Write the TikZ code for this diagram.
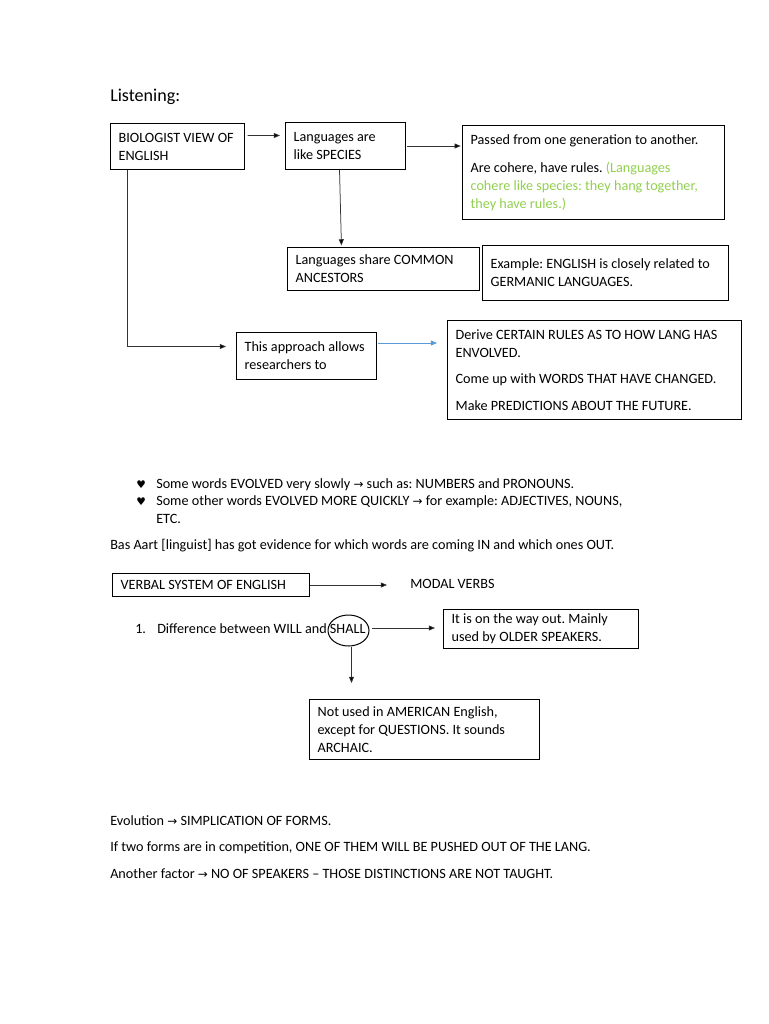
\documentclass[tikz,border=0pt]{standalone}
\usepackage{fontspec}
\setmainfont{Carlito}
\newfontfamily\symfont{DejaVu Sans}
\usetikzlibrary{arrows.meta,shapes.geometric,calc}
\definecolor{notegreen}{HTML}{92D050}
\definecolor{linkblue}{HTML}{5B9BD5}
\newcommand{\toarrow}{{\symfont\fontsize{9.5}{10}\selectfont →}}
\newcommand{\heartmark}{{\symfont\fontsize{8.5}{10}\selectfont ♥}}
\frenchspacing
\begin{document}
\begin{tikzpicture}[x=0.8pt,y=-0.8pt,
  every node/.style={font=\fontsize{11.35}{14.4}\selectfont},
  txt/.style={anchor=base west,inner sep=0pt},
  box/.style={draw,line width=0.8pt,anchor=north west,align=left,inner xsep=6.5pt,inner ysep=2pt,
    execute at begin node={\spaceskip=0pt\xspaceskip=0pt}},
  arr/.style={draw=black!80,line width=0.6pt,-{Triangle[length=5pt,width=4pt,fill=black]}}]
\fill[white] (0,0) rectangle (768,1024);
\useasboundingbox (0,0) rectangle (768,1024);
\node[txt,font=\fontsize{14.45}{17}\selectfont] (title) at (110,102) {Listening:};
\node[box,text width=94.2pt,minimum height=36.8pt] (bio) at (110,123) {BIOLOGIST VIEW OF\\ENGLISH};
\node[box,text width=83pt,minimum height=37.6pt] (species) at (285,122) {Languages are\\like SPECIES};
\node[box,text width=196.6pt,minimum height=75.2pt] (passed) at (462,125) {Passed from one generation to another.\\[8pt]Are cohere, have rules. \color{notegreen}(Languages\\cohere like species: they hang together,\\they have rules.)};
\node[box,text width=140.6pt,minimum height=34.4pt] (common) at (287,247) {Languages share COMMON\\ANCESTORS};
\node[box,text width=183.8pt,minimum height=44pt] (example) at (482,245) {Example: ENGLISH is closely related to\\GERMANIC LANGUAGES.};
\node[box,text width=99pt,minimum height=37.6pt] (approach) at (236,332) {This approach allows\\researchers to};
\node[box,text width=222.2pt,minimum height=79.2pt] (rules) at (447,320) {Derive CERTAIN RULES AS TO HOW LANG HAS\\ENVOLVED.\\[7pt]Come up with WORDS THAT HAVE CHANGED.\\[7pt]Make PREDICTIONS ABOUT THE FUTURE.};
\draw[arr,shorten <=2pt,shorten >=4pt] ($(bio.east)+(0,-11)$) -- ($(species.west)+(0,-10.5)$);
\draw[arr,shorten <=1pt,shorten >=1pt] (species.east) -- (species.east -| passed.west);
\draw[arr,shorten >=2pt] ($(species.south)+(-6,0)$) -- ($(species.south)+(-4,78)$);
\draw[arr,shorten >=8pt] ($(bio.south west)+(17,0)$) |- ($(approach.west)+(0,-9.5)$);
\draw[arr,draw=linkblue,-{Triangle[length=5pt,width=4pt,fill=linkblue]},shorten <=1pt,shorten >=8pt] ($(approach.east)+(0,-13)$) -- ($(approach.east -| rules.west)+(0,-13)$);
\node[txt] (hearta) at (136,488) {\heartmark};
\node[txt] (slow) at (156,488) {Some words EVOLVED very slowly \toarrow{} such as: NUMBERS and PRONOUNS.};
\node[txt] (heartb) at (136,505.5) {\heartmark};
\node[txt] (quick) at (156,505.5) {Some other words EVOLVED MORE QUICKLY \toarrow{} for example: ADJECTIVES, NOUNS,};
\node[txt] (etc) at (156,523) {ETC.};
\node[txt] (basaart) at (110,549.5) {Bas Aart [linguist] has got evidence for which words are coming IN and which ones OUT.};
\node[box,text width=144.6pt,minimum height=18.4pt] (verbal) at (112,573) {VERBAL SYSTEM OF ENGLISH};
\node[txt] (modal) at (410,588.5) {MODAL VERBS};
\draw[arr,shorten >=18.4pt] (verbal.east) -- (verbal.east -| modal.west);
\node[txt] (num) at (135,633) {1.};
\node[txt] (diff) at (157,633) {Difference between WILL and SHALL};
\node[draw,ellipse,line width=0.8pt,minimum width=32.8pt,minimum height=24.8pt,inner sep=0pt] (shall) at (348.5,630.5) {};
\node[box,text width=143pt,minimum height=31.2pt] (wayout) at (443,609) {It is on the way out. Mainly\\used by OLDER SPEAKERS.};
\node[box,text width=171pt,minimum height=48pt] (archaic) at (309,699) {Not used in AMERICAN English,\\except for QUESTIONS. It sounds\\ARCHAIC.};
\draw[arr,shorten <=2pt,shorten >=6.4pt] ($(shall.east)+(0,-2.5)$) -- ($(shall.east -| wayout.west)+(0,-2.5)$);
\draw[arr,shorten >=12.8pt] ($(shall.south)+(3,0)$) -- ($(shall.south |- archaic.north)+(3,0)$);
\node[txt] (evolution) at (110,825) {Evolution \toarrow{} SIMPLICATION OF FORMS.};
\node[txt] (competition) at (110,851.5) {If two forms are in competition, ONE OF THEM WILL BE PUSHED OUT OF THE LANG.};
\node[txt] (factor) at (110,878) {Another factor \toarrow{} NO OF SPEAKERS – THOSE DISTINCTIONS ARE NOT TAUGHT.};
\end{tikzpicture}
\end{document}
